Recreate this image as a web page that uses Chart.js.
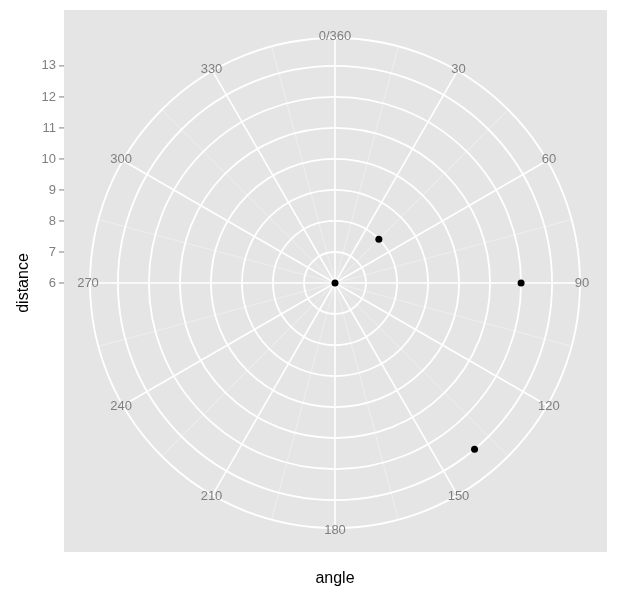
<!DOCTYPE html>
<html>
<head>
<script src="https://cdn.jsdelivr.net/npm/chart.js@4"></script>
<style>
  body { margin: 0; background: #fff; }
  #wrap { width: 619px; height: 598px; }
</style>
</head>
<body>
<div id="wrap"><canvas id="polar"></canvas></div>
<script>
// angles in degrees, distances on the radial axis
const angles = [0, 45, 90, 140];
const distances = [6, 8, 12, 13];
const angleTicks = [0, 30, 60, 90, 120, 150, 180, 210, 240, 270, 300, 330];
const distanceTicks = [6, 7, 8, 9, 10, 11, 12, 13];
const rMin = 6, rMax = 13.9;

// one label per 5 degrees
const labels = [];
for (let a = 0; a < 360; a += 5) labels.push(a);

const pointData = labels.map(() => null);
angles.forEach((a, i) => { pointData[labels.indexOf(a)] = distances[i]; });

const GREY = "#7f7f7f";

const panelPlugin = {
  id: "panel",
  beforeDraw(chart) {
    const c = chart.ctx;
    c.save();
    c.fillStyle = "#e5e5e5";
    c.fillRect(64, 10, 543, 542);
    c.restore();
  },
  afterDraw(chart) {
    const c = chart.ctx;
    const s = chart.scales.r;
    c.save();
    c.font = "13px 'Liberation Sans', Arial, sans-serif";
    c.fillStyle = GREY;
    c.textAlign = "center";
    c.textBaseline = "middle";
    angleTicks.forEach(a => {
      const p = s.getPointPosition(labels.indexOf(a), s.drawingArea + 2);
      c.fillText(a === 0 ? "0/360" : String(a), p.x, p.y);
    });
    // left distance axis
    c.textAlign = "right";
    distanceTicks.forEach(v => {
      const y = s.yCenter - s.getDistanceFromCenterForValue(v);
      c.fillText(String(v), 56, y);
      c.strokeStyle = GREY;
      c.lineWidth = 1;
      c.beginPath(); c.moveTo(59, y); c.lineTo(64, y); c.stroke();
    });
    c.fillStyle = "#000";
    c.font = "16px 'Liberation Sans', Arial, sans-serif";
    c.textAlign = "center";
    c.fillText("angle", 335, 579);
    c.translate(24, 283);
    c.rotate(-Math.PI / 2);
    c.fillText("distance", 0, 0);
    c.restore();
  }
};

new Chart(document.getElementById("polar"), {
  type: "radar",
  data: {
    labels: labels,
    datasets: [{
      data: pointData,
      showLine: false,
      pointRadius: 3.5,
      pointBackgroundColor: "#000",
      pointBorderColor: "#000",
      pointBorderWidth: 0
    }]
  },
  options: {
    responsive: true,
    maintainAspectRatio: false,
    animation: false,
    layout: { padding: { left: 90, right: 39, top: 38, bottom: 70 } },
    plugins: { legend: { display: false }, tooltip: { enabled: false } },
    scales: {
      r: {
        min: rMin,
        max: rMax,
        startAngle: 0,
        afterBuildTicks: axis => {
          axis.ticks = distanceTicks.map(v => ({ value: v })).concat([{ value: rMax }]);
        },
        ticks: { display: false },
        pointLabels: { display: false },
        grid: { circular: true, color: "#fff", lineWidth: 1.8 },
        angleLines: {
          color: ctx => {
            const a = labels[ctx.index];
            if (a % 30 === 0) return "#fff";
            if (a % 15 === 0) return "rgba(255,255,255,0.45)";
            return "rgba(0,0,0,0)";
          },
          lineWidth: ctx => (labels[ctx.index] % 30 === 0 ? 1.6 : 0.8)
        }
      }
    }
  },
  plugins: [panelPlugin]
});
</script>
</body>
</html>
